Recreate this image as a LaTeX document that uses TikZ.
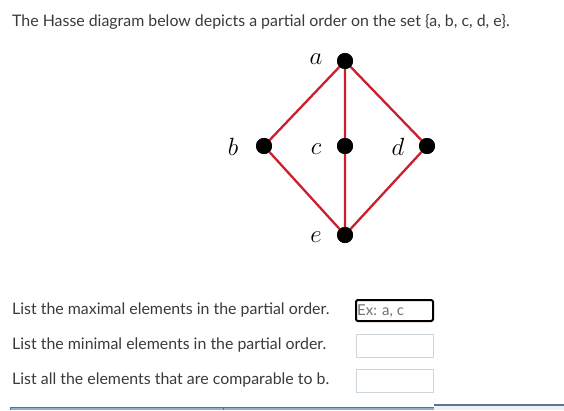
\documentclass[tikz,border=0pt]{standalone}
\usepackage{fontspec}
\setmainfont{Lato}
\definecolor{txt}{HTML}{3A3A3A}
\definecolor{edge}{HTML}{CC1F2B}
\definecolor{barblue}{HTML}{8FB0D2}
\definecolor{barline}{HTML}{5A7396}
\definecolor{boxgray}{HTML}{CDD6DC}
\begin{document}
\begin{tikzpicture}[x=1pt,y=-1pt,
  vtx/.style={circle,fill=black,inner sep=0pt,minimum size=16pt},
  lbl/.style={font=\fontsize{24}{24}\selectfont,inner sep=0pt},
  edgeline/.style={draw=edge,line width=2.3pt},
  body/.style={font=\fontsize{15.9}{18}\selectfont,text=txt,inner sep=0pt,anchor=west},
  ansbox/.style={draw=boxgray,line width=1pt,fill=white}]
\useasboundingbox (0,0) rectangle (564,410);
\node[body] (title) at (12,22) {The Hasse diagram below depicts a partial order on the set \{a, b, c, d, e\}.};
% vertices
\node[vtx] (a) at (345,61) {};
\node[vtx] (b) at (264,146) {};
\node[vtx] (c) at (345,146) {};
\node[vtx] (d) at (427,146) {};
\node[vtx] (e) at (345,235) {};
\draw[edgeline] (a) -- (b) (a) -- (c) (a) -- (d) (c) -- (e) (b) -- (e) (d) -- (e);
\node[vtx] at (a) {};\node[vtx] at (b) {};\node[vtx] at (c) {};\node[vtx] at (d) {};\node[vtx] at (e) {};
\node[lbl] (la) at (316,59) {$a$};
\node[lbl] (lb) at (233,147) {$b$};
\node[lbl] (lc) at (316,149) {$c$};
\node[lbl] (ld) at (398,147) {$d$};
\node[lbl] (le) at (316,237) {$e$};
% questions
\node[body] (q1) at (12,310) {List the maximal elements in the partial order.};
\node[body] (q2) at (12,345) {List the minimal elements in the partial order.};
\node[body] (q3) at (12,380) {List all the elements that are comparable to b.};
\draw[draw=black,line width=2pt,rounded corners=2pt,fill=white] (356,300) rectangle (433,321);
\node[font=\fontsize{15}{17}\selectfont,text=black!55,inner sep=0pt,anchor=west] (ex) at (357,311) {Ex: a, c};
\draw[ansbox] (356,334) rectangle (433,357);
\draw[ansbox] (356,369) rectangle (433,392);
% bottom bar
\fill[barblue] (10,407) rectangle (434,410);
\draw[barline,line width=0.8pt] (10,410) -- (10,407) -- (434,407) -- (434,410);
\draw[barline,line width=0.8pt] (223,407) -- (223,410);
\fill[black!6] (434,405) rectangle (564,410);
\draw[barline,line width=1.5pt] (434,405) -- (564,405);
\end{tikzpicture}
\end{document}
